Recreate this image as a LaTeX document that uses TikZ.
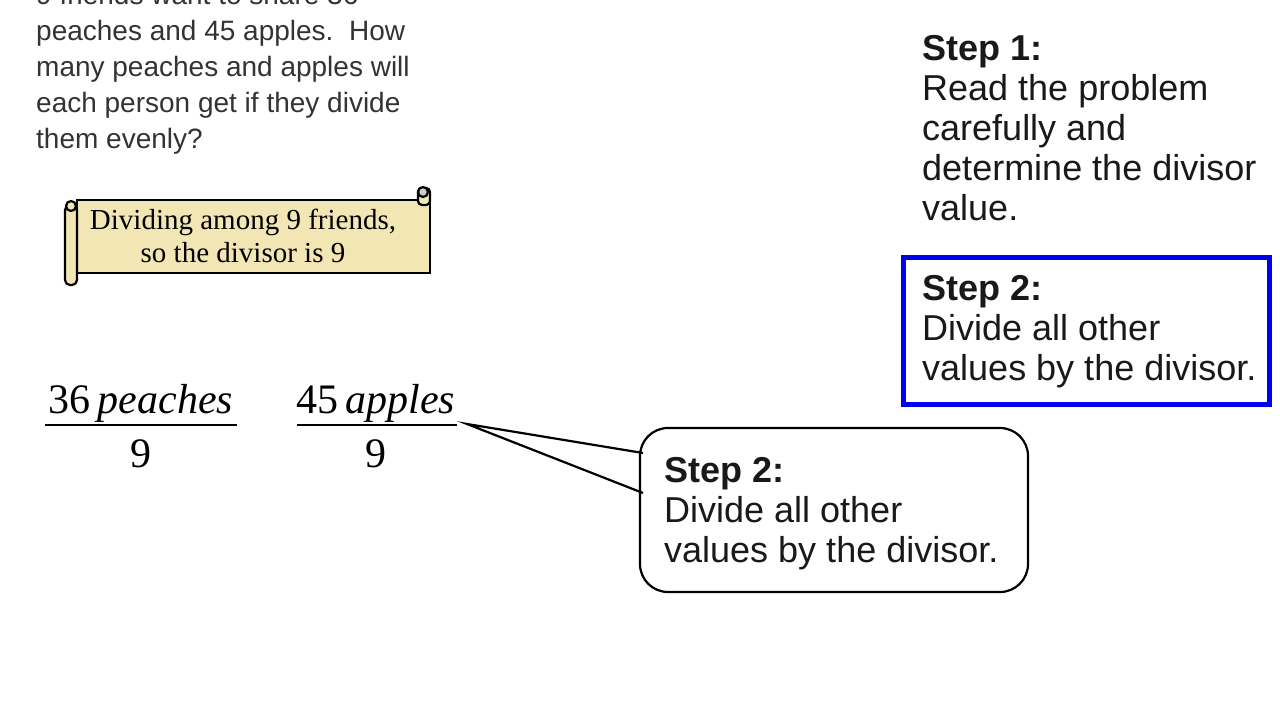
\documentclass[tikz,border=0pt]{standalone}
\usepackage{fontspec}
\setmainfont{Liberation Serif}
\setsansfont{Liberation Sans}
\usepackage{xcolor}
\definecolor{scrollfill}{HTML}{F3E6B5}
\definecolor{stepblue}{HTML}{0000F0}
\tikzset{
  txt/.style={font=\sffamily\fontsize{36}{40}\selectfont, align=left, anchor=north west, inner sep=0pt, text=black!90},
  prob/.style={font=\sffamily\fontsize{28}{36}\selectfont, align=left, anchor=north west, inner sep=0pt, text=black!80},
  frac/.style={font=\fontsize{42}{44}\selectfont, inner sep=0pt},
  edge/.style={line width=2.2}
}
\begin{document}
\begin{tikzpicture}[x=1pt,y=-1pt]
	\useasboundingbox (0,0) rectangle (1280,720);
	\clip (0,0) rectangle (1280,720);
	% problem text
	\node[prob] (problem) at (36,-16) {9 friends want to share 36\\peaches and 45 apples.\ \ How\\many peaches and apples will\\each person get if they divide\\them evenly?};
	% scroll
	\draw[edge, fill=scrollfill] (77,200) rectangle (430,273);
	\draw[edge, fill=scrollfill, rounded corners=5] (65,205) rectangle (77,285);
	\draw[edge, fill=scrollfill] (71,206) circle (5);
	\draw[edge, fill=scrollfill, rounded corners=4] (418,188) rectangle (430,205);
	\draw[edge, fill=black!20] (423,192) circle (5);
	\node[font=\fontsize{29}{33}\selectfont, align=center] (scroll) at (243,236) {Dividing among 9 friends,\\so the divisor is 9};
	% fractions
	\node[frac] (peaches) at (141,403) {36\,\textit{peaches}};
	\node[frac] (ninea) at (141,454) {9};
	\draw[edge] (45,425) -- (237,425);
	\node[frac] (apples) at (376,403) {45\,\textit{apples}};
	\node[frac] (nineb) at (376,454) {9};
	\draw[edge] (297,425) -- (457,425);
	% callout
	\coordinate (tip) at (467,424);
	\draw[edge, fill=white] (643,453) -- (tip) -- (643,493);
	\draw[edge, rounded corners=28] (640,428) rectangle (1028,592);
	\fill[white] (642.5,455) rectangle (650,491);
	\node[txt] (callout) at (664,457) {\textbf{Step 2:}\\Divide all other\\values by the divisor.};
	% steps on the right
	\node[txt] (stepone) at (922,35) {\textbf{Step 1:}\\Read the problem\\carefully and\\determine the divisor\\value.};
	\draw[stepblue, line width=5pt] (903,257) rectangle (1269,404);
	\node[txt] (steptwo) at (922,275) {\textbf{Step 2:}\\Divide all other\\values by the divisor.};
\end{tikzpicture}
\end{document}
